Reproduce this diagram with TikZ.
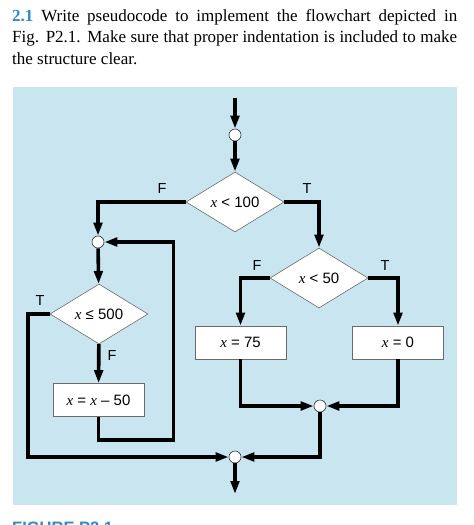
\documentclass[tikz,border=0pt]{standalone}
\usepackage{fontspec}
\setmainfont{Liberation Serif}
\setsansfont{Liberation Sans}
\usetikzlibrary{arrows.meta,shapes.geometric}
\definecolor{bgblue}{HTML}{C9E6F0}
\definecolor{numblue}{HTML}{2E8CC4}
\definecolor{edgegray}{HTML}{6A6A6A}
\begin{document}
\begin{tikzpicture}[x=1pt,y=-1pt,
  flow/.style={line width=3.6pt, -{Triangle[length=13pt,width=8.5pt]}},
  dia/.style={diamond, aspect=1.63, draw=edgegray, line width=0.6pt, fill=white,
    minimum width=98pt, minimum height=60pt, inner sep=0pt,
    font=\sffamily\fontsize{15}{17}\selectfont},
  proc/.style={rectangle, draw=edgegray, line width=0.6pt, fill=white,
    minimum width=91pt, minimum height=33pt, inner sep=0pt,
    font=\sffamily\fontsize{15}{17}\selectfont},
  junc/.style={circle, draw=black!80, line width=0.6pt, fill=white,
    minimum size=12pt, inner sep=0pt},
  lab/.style={font=\sffamily\fontsize{14.5}{16}\selectfont, inner sep=0pt}]
\useasboundingbox (0,0) rectangle (474,525);
\fill[white] (0,0) rectangle (474,525);
\newcommand{\vx}{{\rmfamily\itshape x}}
% title text
\node[anchor=north west, text width=445pt, align=justify, inner sep=0pt,
  font=\fontsize{17}{21.5}\selectfont] (title) at (12,9)
  {{\bfseries\color{numblue}2.1} Write pseudocode to implement the flowchart depicted in\linebreak
   Fig. P2.1. Make sure that proper indentation is included to make\linebreak
   the structure clear.};
% background
\fill[bgblue] (13,87) rectangle (457,505);
% caption (cut by page edge, as in the reference)
\node[anchor=base west, inner sep=0pt, text=numblue,
  font=\sffamily\bfseries\fontsize{16.5}{18}\selectfont] (cap) at (12,533.5) {FIGURE P2.1};
% nodes
\coordinate (start) at (235,98);
\node[junc] (c1) at (235,135) {};
\node[dia] (d1) at (235,202) {\vx\ < 100};
\node[junc] (c2) at (98,242) {};
\node[dia] (d2) at (319,278) {\vx\ < 50};
\node[dia] (d3) at (99,314) {\vx\ ≤ 500};
\node[proc] (b75) at (240.5,342.5) {\vx\ = 75};
\node[proc] (b0) at (398,342.5) {\vx\ = 0};
\node[proc] (b50) at (98.5,400) {\vx\ = \vx\ – 50};
\node[junc] (c3) at (320,406) {};
\node[junc] (c4) at (235,457) {};
\coordinate (end) at (235,494);
% labels
\node[lab] (lF1) at (162,189) {F};
\node[lab] (lT1) at (307,189) {T};
\node[lab] (lF2) at (257,266) {F};
\node[lab] (lT2) at (385,266) {T};
\node[lab] (lT3) at (40,301) {T};
\node[lab] (lF3) at (112,356) {F};
% connectors
\draw[flow] (start) -- (c1);
\draw[flow] (c1) -- (d1);
\draw[flow] (d1.west) -| (c2);
\draw[flow] (d1.east) -| (d2);
\draw[flow] (d2.west) -| (b75);
\draw[flow] (d2.east) -| (b0);
\draw[flow] (b75) |- (c3);
\draw[flow] (b0) |- (c3);
\draw[flow] (c3) |- (c4);
\draw[flow] (c4) -- (end);
\draw[flow] (c2) -- (d3);
\draw[flow] (d3) -- (b50);
\draw[flow] (d3.west) -- ++(-22,0) |- (c4);
\draw[flow] (b50.south) -- ++(0,23) -- ++(75,0) |- (c2);
\end{tikzpicture}
\end{document}
